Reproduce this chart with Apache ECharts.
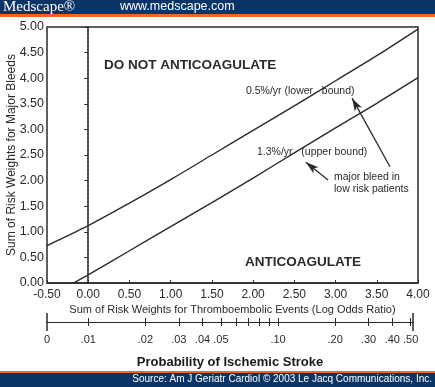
<!DOCTYPE html>
<html><head><meta charset="utf-8">
<style>html,body{margin:0;padding:0;background:#fff}#c{width:435px;height:387px}</style>
<script src="https://cdn.jsdelivr.net/npm/echarts@6/dist/echarts.min.js"></script>
</head><body><div id="c"></div>
<script>
// Data
var xTicks = [-0.5, 0, 0.5, 1, 1.5, 2, 2.5, 3, 3.5, 4];
var upperBoundX = [-0.5, 0, 0.5, 1, 1.5, 2, 2.5, 3, 3.5, 4];
var upperBoundY = [0.73, 1.12, 1.56, 2.02, 2.50, 2.98, 3.46, 3.95, 4.44, 4.96];
var lowerBoundX = [-0.18, 0, 0.5, 1, 1.5, 2, 2.5, 3, 3.5, 4];
var lowerBoundY = [0, 0.16, 0.63, 1.10, 1.57, 2.05, 2.54, 3.03, 3.51, 4.01];
var probTicks = [0.01, 0.02, 0.03, 0.04, 0.05, 0.06, 0.07, 0.08, 0.09, 0.10, 0.20, 0.30, 0.40, 0.50];
var probLabels = [0.01, 0.02, 0.03, 0.04, 0.05, 0.10, 0.20, 0.30, 0.40, 0.50];
var arrowLower = [[3.66, 2.27], [3.20, 3.61]];
var arrowUpper = [[2.91, 2.01], [2.64, 2.36]];

var FONT = '"Liberation Sans", Arial, Helvetica, sans-serif';
var INK = '#2a2a2a';
function pos(p) { return Math.log(p / 0.01); }   // log-odds position of a probability
var probMin = -0.5, probMax = 3.94;

function pairs(xs, ys) { return xs.map(function (x, i) { return [x, ys[i]]; }); }

var chart = echarts.init(document.getElementById('c'), null, {renderer: 'canvas'});
var option = {
  animation: false,
  backgroundColor: '#fff',
  grid: [
    {left: 47, right: 17, top: 27, bottom: 104, show: true, borderColor: INK, borderWidth: 1.5,
      backgroundColor: '#fff', containLabel: false, outerBoundsMode: 'none'},
    {left: 47, right: 22, top: 322, height: 0, containLabel: false, outerBoundsMode: 'none'}
  ],
  xAxis: [
    {gridIndex: 0, type: 'value', min: -0.5, max: 4, interval: 0.5,
      axisLine: {lineStyle: {color: INK, width: 1.5}},
      axisTick: {inside: true, length: 3, lineStyle: {color: INK}},
      splitLine: {show: false},
      axisLabel: {color: INK, fontFamily: FONT, fontSize: 12, margin: 6,
        formatter: function (v) { return v.toFixed(2); }},
      name: 'Sum of Risk Weights for Thromboembolic Events (Log Odds Ratio)',
      nameLocation: 'middle', nameGap: 21, nameMoveOverlap: false,
      nameTextStyle: {color: INK, fontFamily: FONT, fontSize: 11}},
    {gridIndex: 1, type: 'value', min: probMin, max: probMax, position: 'bottom',
      axisLine: {show: true, lineStyle: {color: INK, width: 1.2}},
      axisTick: {show: true, length: 4, lineStyle: {color: INK, width: 1},
        customValues: probTicks.map(pos)},
      splitLine: {show: false},
      axisLabel: {show: true, color: INK, fontFamily: FONT, fontSize: 11, margin: 12,
        customValues: [probMin].concat(probLabels.map(pos)),
        formatter: function (v) {
          if (v <= probMin + 1e-6) return '0';
          var p = Math.round(0.01 * Math.exp(v) * 100) / 100;
          return p.toFixed(2).replace(/^0/, '');
        }},
      name: 'Probability of Ischemic Stroke', nameLocation: 'middle', nameGap: 34, nameMoveOverlap: false,
      nameTextStyle: {color: '#1a1a1a', fontFamily: '"Liberation Sans Narrow", "Arial Narrow", ' + FONT, fontSize: 13, fontWeight: 'bold'}},
    {gridIndex: 1, type: 'value', min: probMin, max: probMax, position: 'top',
      axisLine: {show: false},
      axisTick: {show: true, length: 4, lineStyle: {color: INK, width: 1},
        customValues: probTicks.map(pos)},
      splitLine: {show: false}, axisLabel: {show: false}},
    {gridIndex: 1, type: 'value', min: probMin, max: probMax, position: 'top', offset: 0,
      axisLine: {show: false},
      axisTick: {show: true, length: 9, lineStyle: {color: INK, width: 1.5},
        customValues: [probMin, probMax]},
      splitLine: {show: false}, axisLabel: {show: false}},
    {gridIndex: 1, type: 'value', min: probMin, max: probMax, position: 'bottom',
      axisLine: {show: false},
      axisTick: {show: true, length: 9, lineStyle: {color: INK, width: 1.5},
        customValues: [probMin, probMax]},
      splitLine: {show: false}, axisLabel: {show: false}}
  ],
  yAxis: [
    {gridIndex: 0, type: 'value', min: 0, max: 5, interval: 0.5,
      axisLine: {show: true, lineStyle: {color: INK, width: 1.5}},
      axisTick: {show: true, length: 4, lineStyle: {color: INK}},
      splitLine: {show: false},
      axisLabel: {color: INK, fontFamily: FONT, fontSize: 12.5, margin: 3,
        formatter: function (v) { return v.toFixed(2); }},
      name: 'Sum of Risk Weights for Major Bleeds', nameLocation: 'middle', nameGap: 29, nameMoveOverlap: false,
      nameTextStyle: {color: INK, fontFamily: FONT, fontSize: 12}},
    {gridIndex: 1, type: 'value', show: false, min: 0, max: 1}
  ],
  series: [
    {type: 'line', xAxisIndex: 0, yAxisIndex: 0, data: pairs(upperBoundX, upperBoundY),
      smooth: 0.3, showSymbol: false, lineStyle: {color: INK, width: 1.4},
      markLine: {silent: true, symbol: 'none', label: {show: false},
        lineStyle: {type: [2, 2], color: '#444', width: 1.5},
        data: [{xAxis: 0}]}},
    {type: 'line', xAxisIndex: 0, yAxisIndex: 0, data: pairs(lowerBoundX, lowerBoundY),
      smooth: 0.3, showSymbol: false, lineStyle: {color: INK, width: 1.4},
      markLine: {silent: true, symbol: ['none', 'arrow'], symbolSize: [6, 13], label: {show: false},
        lineStyle: {type: 'solid', color: INK, width: 1.3},
        data: [
          [{coord: arrowLower[0]}, {coord: arrowLower[1]}],
          [{coord: arrowUpper[0]}, {coord: arrowUpper[1]}]
        ]}}
  ],
  graphic: [
    // header
    {type: 'rect', left: 0, top: 0, shape: {width: 435, height: 14}, style: {fill: '#0b3466'}},
    {type: 'rect', left: 0, top: 14, shape: {width: 435, height: 3}, style: {fill: '#f0681e'}},
    {type: 'text', left: 3, top: 0, style: {text: 'Medscape\u00ae', fill: '#fff', font: '15px "Liberation Serif", "Times New Roman", serif'}},
    {type: 'text', left: 120, top: 0, style: {text: 'www.medscape.com', fill: '#fff', font: '12.5px ' + FONT}},
    // footer
    {type: 'rect', left: 0, top: 371, shape: {width: 435, height: 2}, style: {fill: '#f0681e'}},
    {type: 'rect', left: 0, top: 373, shape: {width: 435, height: 14}, style: {fill: '#0b3466'}},
    {type: 'text', right: 3, top: 374, style: {text: 'Source: Am J Geriatr Cardiol \u00a9 2003 Le Jacq Communications, Inc.', fill: '#fff', font: '10px ' + FONT}},
    // annotations
    {type: 'text', left: 104, top: 58, z: 10, style: {text: 'DO NOT ANTICOAGULATE', fill: INK, font: 'bold 13.5px ' + FONT}},
    {type: 'text', left: 245, top: 255, z: 10, style: {text: 'ANTICOAGULATE', fill: INK, font: 'bold 13.5px ' + FONT}},
    {type: 'text', left: 246, top: 86, z: 10, style: {text: '0.5%/yr (lower   bound)', fill: INK, font: '10.5px ' + FONT}},
    {type: 'text', left: 257, top: 147, z: 10, style: {text: '1.3%/yr   (upper bound)', fill: INK, font: '10.5px ' + FONT}},
    {type: 'text', left: 334, top: 171, z: 10, style: {text: 'major bleed in\nlow risk patients', fill: INK, font: '10.5px ' + FONT, lineHeight: 12}}
  ]
};
chart.setOption(option);
</script></body></html>
